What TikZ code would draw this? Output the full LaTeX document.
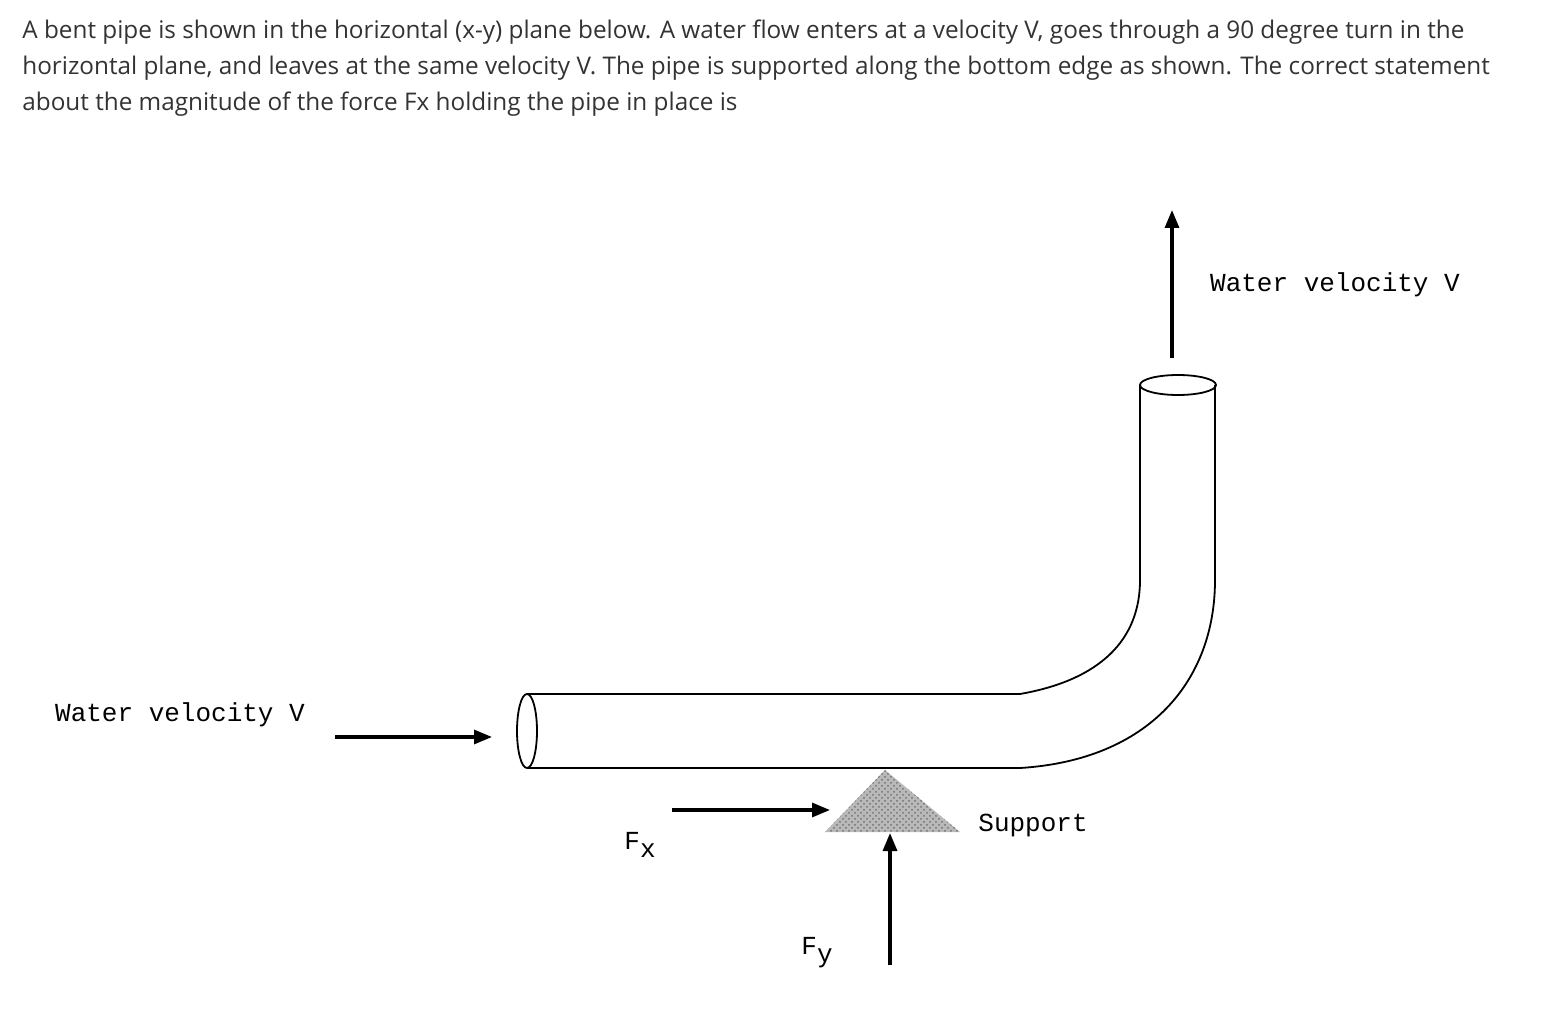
\documentclass[tikz,border=0pt]{standalone}
\usepackage{fontspec}
\setmainfont{Open Sans}
\newfontfamily\lblfont{Liberation Mono}
\usetikzlibrary{arrows.meta,patterns}
\begin{document}
\begin{tikzpicture}[x=0.5pt,y=-0.5pt,
  lbl/.style={font=\lblfont\fontsize{13}{15}\selectfont,inner sep=0},
  pipe/.style={line width=0.9pt},
  flow/.style={line width=1.6pt,-{Triangle[length=9pt,width=7pt]}}]
\useasboundingbox (0,0) rectangle (1564,1026);
\node[anchor=north west,align=left,inner sep=0,text=black!80,font=\fontsize{12.15}{18}\selectfont] (q) at (22,20)
{A bent pipe is shown in the horizontal (x-y) plane below. A water flow enters at a velocity V, goes through a 90 degree turn in the\\
horizontal plane, and leaves at the same velocity V. The pipe is supported along the bottom edge as shown. The correct statement\\
about the magnitude of the force Fx holding the pipe in place is};
% pipe
\draw[pipe] (527,731) ellipse [x radius=10, y radius=37];
\draw[pipe] (527,694) -- (1020,694) .. controls (1100,680) and (1140,640) .. (1140,580) -- (1140,385);
\draw[pipe] (527,768) -- (1020,768) .. controls (1150,760) and (1215,680) .. (1215,580) -- (1215,385);
\draw[pipe] (1178,385) ellipse [x radius=38, y radius=10];
% labels and arrows
\node[lbl] (wl) at (180,715) {Water velocity V};
\coordinate (a1) at (335,737); \coordinate (a2) at (492,737);
\draw[flow] (a1) -- (a2);
\node[lbl] (wr) at (1335,285) {Water velocity V};
\coordinate (b1) at (1172,358); \coordinate (b2) at (1172,210);
\draw[flow] (b1) -- (b2);
% support
\coordinate (s1) at (885,770); \coordinate (s2) at (825,832); \coordinate (s3) at (960,832);
\fill[gray!55] (s1) -- (s2) -- (s3) -- cycle;
\fill[pattern=crosshatch dots,pattern color=gray!90!black] (s1) -- (s2) -- (s3) -- cycle;
\node[lbl,anchor=west] (sup) at (978,825) {Support};
\coordinate (f1) at (672,810); \coordinate (f2) at (830,810);
\draw[flow] (f1) -- (f2);
\node[lbl] (fx) at (640,845) {F\raisebox{-0.6ex}{x}};
\coordinate (g1) at (890,965); \coordinate (g2) at (890,833);
\draw[flow] (g1) -- (g2);
\node[lbl] (fy) at (817,953) {F\raisebox{-0.6ex}{y}};
\end{tikzpicture}
\end{document}
